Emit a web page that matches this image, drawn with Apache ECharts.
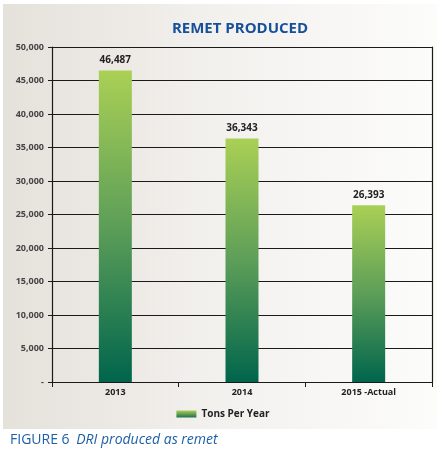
<!doctype html>
<html>
<head>
<meta charset="UTF-8">
<title>REMET PRODUCED</title>
<script src="https://cdn.jsdelivr.net/npm/echarts@6/dist/echarts.min.js"></script>
<style>
html,body{margin:0;padding:0;background:#fff;}
#main{width:446px;height:454px;}
</style>
</head>
<body>
<div id="main"></div>
<script>
// data
var years = ['2013', '2014', '2015 -Actual'];
var tonsPerYear = [46487, 36343, 26393];
var seriesName = 'Tons Per Year';

var barColor = new echarts.graphic.LinearGradient(0, 0, 0, 1, [
	{ offset: 0, color: '#aad055' },
	{ offset: 0.5, color: '#5d9e58' },
	{ offset: 1, color: '#00654c' }
]);
var legendColor = new echarts.graphic.LinearGradient(0, 0, 0, 1, [
	{ offset: 0, color: '#aad055' },
	{ offset: 1, color: '#1f6f4f' }
]);
var font = '"Open Sans", Roboto, sans-serif';

function fmt(v) {
	if (v === 0) return '-';
	return v.toString().replace(/\B(?=(\d{3})+(?!\d))/g, ',');
}

var myChart = echarts.init(document.getElementById('main'));
var option = {
	animation: false,
	textStyle: { fontFamily: font },
	graphic: [
		{
			type: 'rect', z: -10, silent: true,
			shape: { x: 3, y: 4, width: 434, height: 425 },
			style: {
				fill: new echarts.graphic.LinearGradient(0, 0, 1, 0, [
					{ offset: 0, color: '#e5e1db' },
					{ offset: 0.5, color: '#f3f1ee' },
					{ offset: 1, color: '#fcfcfb' }
				])
			}
		},
		{
			type: 'text', left: 10, top: 433,
			style: {
				text: '{a|FIGURE 6}  {b|DRI produced as remet}',
				fill: '#1d5fa8',
				rich: {
					a: { fontFamily: font, fontSize: 14, fill: '#1d5fa8' },
					b: { fontFamily: font, fontSize: 14, fill: '#1d5fa8', fontStyle: 'italic' }
				}
			}
		}
	],
	title: {
		text: 'REMET PRODUCED',
		left: 235, top: 16, textAlign: 'center',
		textStyle: { color: '#17509a', fontSize: 15, fontWeight: 'bold', fontFamily: font }
	},
	legend: {
		data: [{ name: seriesName, itemStyle: { color: legendColor } }],
		left: 'center', top: 404,
		itemWidth: 20, itemHeight: 7, itemGap: 5,
		icon: 'rect',
		textStyle: { color: '#222', fontSize: 10, fontWeight: 'bold', fontFamily: font }
	},
	grid: { left: 52, right: 14, top: 47, bottom: 72 },
	xAxis: {
		type: 'category',
		data: years,
		axisLine: { lineStyle: { color: '#1a1a1a', width: 1.2 } },
		axisTick: { show: true, length: 5, lineStyle: { color: '#1a1a1a' } },
		axisLabel: { color: '#222', fontSize: 9, fontWeight: 'bold', margin: 6 }
	},
	yAxis: [
		{
			type: 'value', min: 0, max: 50000, interval: 5000,
			axisLine: { show: true, lineStyle: { color: '#1a1a1a', width: 1.2 } },
			axisTick: { show: true, length: 4, lineStyle: { color: '#1a1a1a' } },
			splitLine: { lineStyle: { color: '#1a1a1a', width: 1 } },
			axisLabel: { color: '#444', fontSize: 9, fontWeight: 'bold', margin: 8, formatter: fmt }
		},
		{
			type: 'value', min: 0, max: 50000, interval: 5000, position: 'right',
			axisLine: { show: true, lineStyle: { color: '#1a1a1a', width: 1.2 } },
			axisTick: { show: false }, axisLabel: { show: false }, splitLine: { show: false }
		}
	],
	series: [
		{
			name: seriesName,
			type: 'bar',
			data: tonsPerYear,
			barWidth: 33,
			itemStyle: { color: barColor },
			label: {
				show: true, position: 'top', distance: 5,
				color: '#222', fontSize: 10, fontWeight: 'bold', fontFamily: font,
				formatter: function (p) { return fmt(p.value); }
			}
		}
	]
};
myChart.setOption(option);
</script>
</body>
</html>
